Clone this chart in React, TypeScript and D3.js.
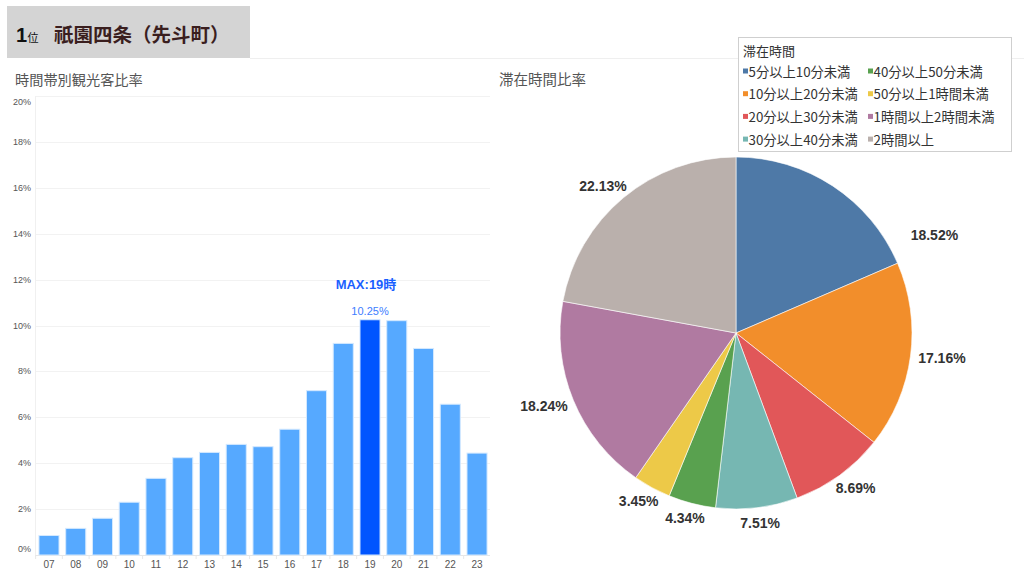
import React from 'react';
import * as d3 from 'd3';

const hours = ['07','08','09','10','11','12','13','14','15','16','17','18','19','20','21','22','23'];
const hourShares = [0.85,1.16,1.60,2.30,3.34,4.24,4.47,4.82,4.72,5.48,7.16,9.22,10.25,10.21,9.00,6.57,4.44];
const yTicks = [0,2,4,6,8,10,12,14,16,18,20];

const stayCategories = ['5分以上10分未満','10分以上20分未満','20分以上30分未満','30分以上40分未満','40分以上50分未満','50分以上1時間未満','1時間以上2時間未満','2時間以上'];
const stayShares = [18.52,17.16,8.69,7.51,4.34,3.45,18.24,22.13];
const stayColors = ['#4e79a7','#f28e2b','#e15759','#76b7b2','#59a14f','#edc948','#b07aa1','#bab0ac'];

const FONT = '"Liberation Sans", Arial, "Noto Sans CJK JP", sans-serif';

export default function App() {
  const W = 1024, H = 579;
  // bar chart
  const x = d3.scaleBand<string>().domain(hours).range([35.6, 490.4]).paddingInner(0.25).paddingOuter(0.125);
  const y = d3.scaleLinear().domain([0, 20]).range([555, 96]);
  const maxIdx = hourShares.indexOf(d3.max(hourShares) as number);
  const maxHour = hours[maxIdx];
  const maxVal = hourShares[maxIdx];

  // pie
  const cx = 736, cy = 333, r = 176;
  const pie = d3.pie<number>().sort(null).value(d => d)(stayShares);
  const arc = d3.arc<d3.PieArcDatum<number>>().innerRadius(0).outerRadius(r);

  const labels = pie.map((p, i) => {
    let a = (p.startAngle + p.endAngle) / 2;
    let gap = 8;
    if (i === 0) { a = (62 * Math.PI) / 180; gap = 25; }
    const text = stayShares[i].toFixed(2) + '%';
    const w = text.length * 7.9, h = 14;
    const R = r + gap;
    const px = cx + R * Math.sin(a);
    const py = cy - R * Math.cos(a);
    const lx = px + (w / 2) * Math.sin(a);
    const ly = py - (h / 2) * Math.cos(a);
    return { text, lx, ly };
  });

  const legendRows = 4;

  return (
    <svg width={W} height={H} style={{ position: 'absolute', left: 0, top: 0, background: '#fff' }} fontFamily={FONT}>
      {/* header */}
      <rect x={7} y={6} width={243} height={52} fill="#d4d4d4" />
      <line x1={250} x2={1024} y1={58.5} y2={58.5} stroke="#efefef" />
      <text x={16} y={42} fill="#111" fontWeight="bold" fontSize={20}>1</text>
      <text x={27.5} y={42} fill="#111" fontSize={11}>位</text>
      <text x={54} y={42} fill="#3a1e1e" fontWeight="bold" fontSize={19.5} fontFamily='"Noto Sans CJK JP", sans-serif'>祇園四条（先斗町）</text>

      {/* bar chart */}
      <text x={15} y={85} fill="#555" fontSize={14.2} fontFamily='"Noto Sans CJK JP", sans-serif'>時間帯別観光客比率</text>
      {yTicks.map(t => (
        <g key={t}>
          <line x1={35} x2={490} y1={Math.round(y(t)) + 0.5} y2={Math.round(y(t)) + 0.5} stroke={t === 0 ? '#e6e6e6' : '#f2f2f2'} />
          <text x={31} y={Math.min(549, Math.max(102, y(t)))} textAnchor="end" dominantBaseline="central" fill="#555" fontSize={9}>{t}%</text>
        </g>
      ))}
      <line x1={35.5} x2={35.5} y1={96} y2={555} stroke="#f0f0f0" />
      {hours.map((h, i) => {
        const bx = x(h) as number;
        return (
          <g key={h}>
            <rect x={bx} y={y(hourShares[i])} width={x.bandwidth()} height={y(0) - y(hourShares[i])}
              fill={i === maxIdx ? '#0055ff' : '#56a9ff'} stroke="#d4e9ff" strokeWidth={1} />
            <line x1={bx - (x.step() - x.bandwidth()) / 2} x2={bx - (x.step() - x.bandwidth()) / 2} y1={555} y2={559} stroke="#e8e8e8" />
            <text x={bx + x.bandwidth() / 2} y={564} textAnchor="middle" dominantBaseline="central" fill="#555" fontSize={10}>{h}</text>
          </g>
        );
      })}
      <text x={(x(maxHour) as number) + x.bandwidth() / 2 - 4} y={284} textAnchor="middle" dominantBaseline="central" fill="#1a5fff" fontWeight="bold" fontSize={13}>MAX:{Number(maxHour)}時</text>
      <text x={(x(maxHour) as number) + x.bandwidth() / 2} y={310.5} textAnchor="middle" dominantBaseline="central" fill="#3d7dff" fontSize={11}>{maxVal.toFixed(2)}%</text>

      {/* pie */}
      <text x={499} y={85} fill="#555" fontSize={14.5} fontFamily='"Noto Sans CJK JP", sans-serif'>滞在時間比率</text>
      <g transform={`translate(${cx},${cy})`}>
        {pie.map((p, i) => (
          <path key={i} d={arc(p) as string} fill={stayColors[i]} stroke="#fff" strokeWidth={0.6} />
        ))}
      </g>
      {labels.map((l, i) => (
        <text key={i} x={l.lx} y={l.ly} textAnchor="middle" dominantBaseline="central" fill="#333" fontWeight="bold" fontSize={14}>{l.text}</text>
      ))}

      {/* legend */}
      <rect x={738.5} y={37.5} width={273} height={114} fill="#fff" stroke="#cfcfcf" />
      <text x={743} y={50} dominantBaseline="central" fill="#333" fontSize={13} fontFamily='"Noto Sans CJK JP", sans-serif'>滞在時間</text>
      {stayCategories.map((c, i) => {
        const col = Math.floor(i / legendRows), row = i % legendRows;
        const lx = 743 + col * 125;
        const ly = 71 + row * 22.7;
        return (
          <g key={c}>
            <rect x={lx} y={ly - 2.5} width={5} height={5} fill={stayColors[i]} />
            <text x={lx + 5.5} y={ly} dominantBaseline="central" fill="#333" fontSize={13.3} fontFamily='"Noto Sans CJK JP", sans-serif'>{c}</text>
          </g>
        );
      })}
    </svg>
  );
}
